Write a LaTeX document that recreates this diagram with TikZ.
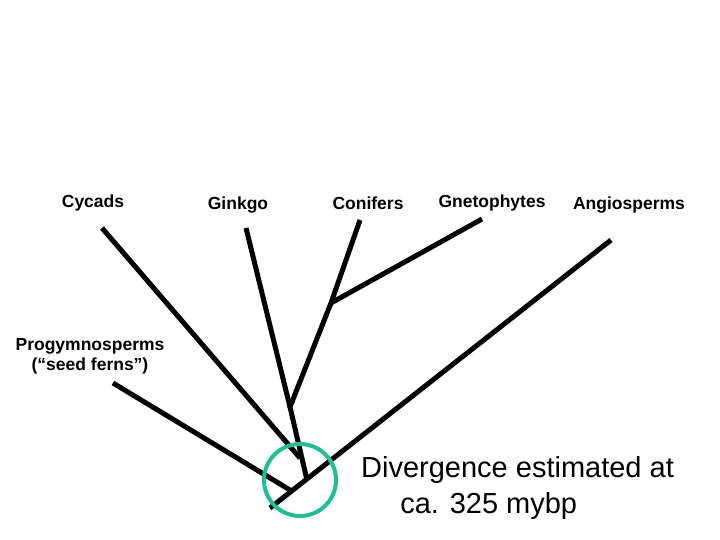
\documentclass[tikz,border=0pt]{standalone}
\usepackage{fontspec}
\setmainfont{Liberation Sans}
\begin{document}
\begin{tikzpicture}[x=1pt,y=-1pt,br/.style={line width=5pt,black},lab/.style={font=\bfseries\fontsize{17.5}{20}\selectfont,align=center,inner sep=0pt}]
\useasboundingbox (0,0) rectangle (720,540);
\coordinate (root) at (270,508);
\coordinate (ang) at (611,240);
\coordinate (s1) at (307,480);
\coordinate (s2) at (300,458);
\coordinate (s3) at (290,407);
\coordinate (s4) at (331,303);
\coordinate (cy) at (102,228);
\coordinate (gi) at (246,228);
\coordinate (co) at (360,220);
\coordinate (gn) at (482,219);
\coordinate (pg) at (113,383);
\coordinate (pge) at (290,490);
\draw[br] (root) -- (ang);
\draw[br] (pg) -- (pge);
\draw[br] (s1) -- (s3) -- (s4) -- (co);
\draw[br] (s2) -- (cy);
\draw[br] (s3) -- (gi);
\draw[br] (s4) -- (gn);
\draw[line width=4pt,color={rgb,255:red,30;green,190;blue,150}] (300,480) circle (36);
\node[lab] (tcy) at (93,203) {Cycads};
\node[lab] (tgi) at (238,205) {Ginkgo};
\node[lab] (tco) at (368,203) {Conifers};
\node[lab] (tgn) at (492,203) {Gnetophytes};
\node[lab] (tan) at (629,205) {Angiosperms};
\node[lab] (tpg) at (90,356) {Progymnosperms\\(``seed ferns'')};
\node[font=\fontsize{29}{36}\selectfont,align=left,anchor=north west,inner sep=0pt] (tdv) at (361,456) {Divergence estimated at\\\hspace{1.35em}ca. 325 mybp};
\end{tikzpicture}
\end{document}
